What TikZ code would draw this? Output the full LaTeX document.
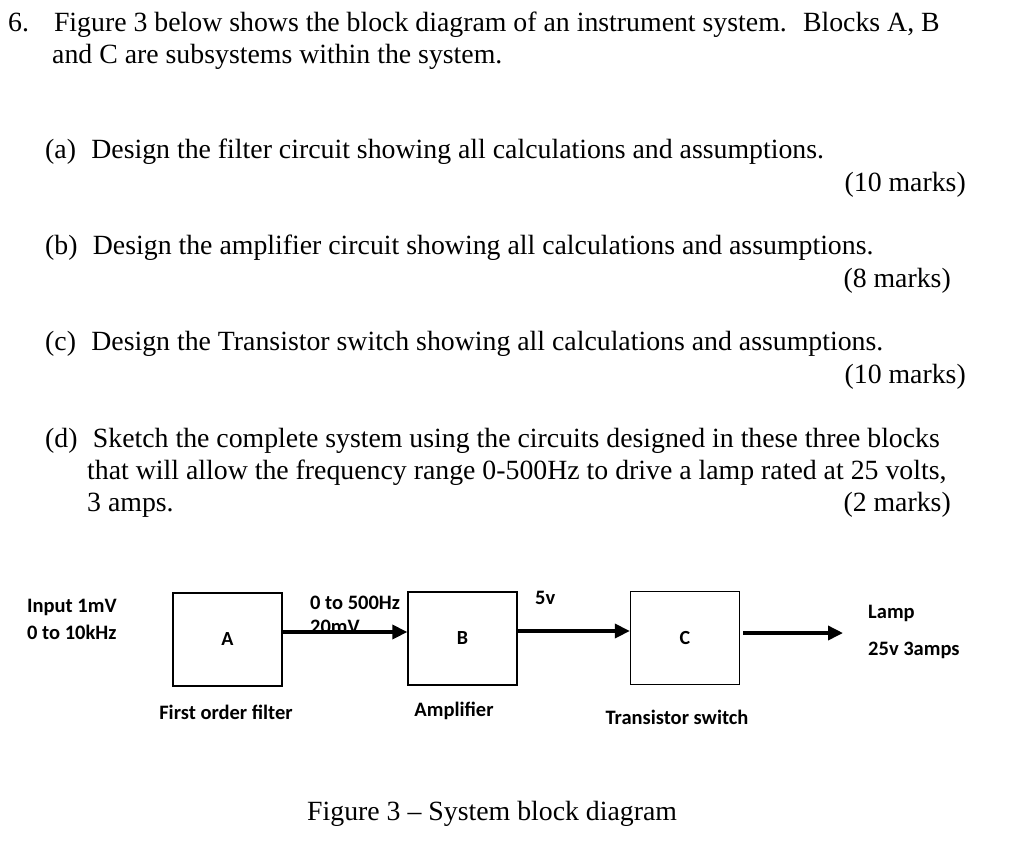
\documentclass[tikz,border=0pt]{standalone}
\usepackage{fontspec}
\usetikzlibrary{arrows.meta}
\setmainfont{Liberation Serif}
\newfontfamily\carl{Carlito}
\begin{document}
\begin{tikzpicture}[x=1pt,y=-1pt,
 q/.style={anchor=base west,inner sep=0pt,font=\fontsize{27.8}{30}\selectfont},
 lb/.style={inner sep=0pt,font=\carl\bfseries\fontsize{20.5}{24}\selectfont},
 blk/.style={draw,line width=1.3pt,minimum width=109pt,minimum height=93pt,inner sep=0pt,font=\carl\bfseries\fontsize{20}{22}\selectfont},
 ar/.style={line width=3.5pt,-{Triangle[length=15pt,width=14pt]}}]
\useasboundingbox (0,0) rectangle (1024,852);
\node[q] (t1) at (8,31) {6.\hspace{0.9em}Figure 3 below shows the block diagram of an instrument system.\hspace{0.25em} Blocks A, B};
\node[q] (t2) at (52,63) {and C are subsystems within the system.};
\node[q] (a1) at (45,158) {(a)\hspace{0.3em} Design the filter circuit showing all calculations and assumptions.};
\node[q,anchor=base east] (a2) at (966,191) {(10 marks)};
\node[q] (b1) at (45,254) {(b)\hspace{0.3em} Design the amplifier circuit showing all calculations and assumptions.};
\node[q,anchor=base east] (b2) at (951,287) {(8 marks)};
\node[q] (c1) at (45,350) {(c)\hspace{0.3em} Design the Transistor switch showing all calculations and assumptions.};
\node[q,anchor=base east] (c2) at (966,383) {(10 marks)};
\node[q] (d1) at (45,447) {(d)\hspace{0.3em} Sketch the complete system using the circuits designed in these three blocks};
\node[q] (d2) at (87,479) {that will allow the frequency range 0-500Hz to drive a lamp rated at 25 volts,};
\node[q] (d3) at (87,511) {3 amps.};
\node[q,anchor=base east] (d4) at (951,511) {(2 marks)};
\node[q] (fig) at (307,820) {Figure 3 -- System block diagram};
\node[blk] (A) at (227.5,639.5) {A};
\node[blk] (B) at (462.5,638.5) {B};
\node[blk] (C) at (685,638) {C};
\coordinate (L) at (843,633);
\draw[ar] (A.east |- 0,632) -- (B.west |- 0,632);
\draw[ar] (B.east |- 0,631) -- (C.west |- 0,631);
\draw[ar] (743,633) -- (L);
\node[lb,anchor=west] (i1) at (27,607) {Input 1mV};
\node[lb,anchor=west] (i2) at (27,632) {0 to 10kHz};
\node[lb,anchor=west] (f1) at (310,603) {0 to 500Hz};
\node[lb,anchor=west] (f2) at (310,627) {20mV};
\node[lb,anchor=west] (v5) at (535,598) {5v};
\node[lb,anchor=west] (l1) at (868,613) {Lamp};
\node[lb,anchor=west] (l2) at (868,650) {25v 3amps};
\node[lb] (n1) at (226,712) {First order filter};
\node[lb] (n2) at (454,711) {Amplifier};
\node[lb] (n3) at (677,717) {Transistor switch};
\end{tikzpicture}
\end{document}
